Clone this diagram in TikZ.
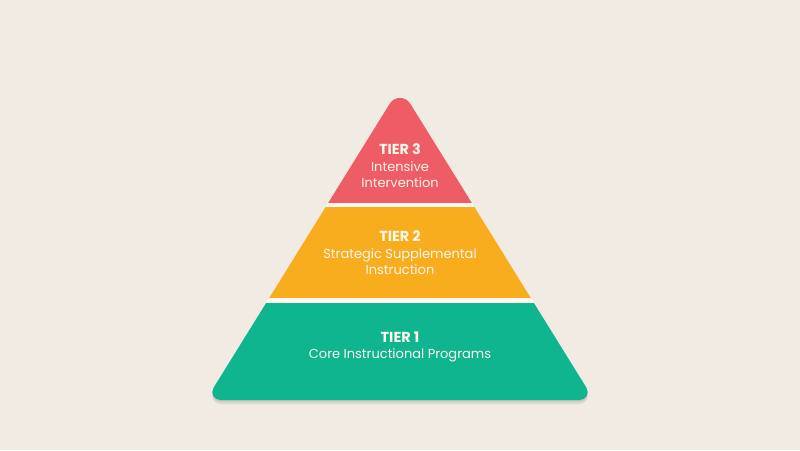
\documentclass[tikz,border=0pt]{standalone}
\usepackage{fontspec}
\setmainfont{Poppins}
\definecolor{bg}{HTML}{F1EBE4}
\definecolor{tred}{HTML}{EE5C66}
\definecolor{torange}{HTML}{F8AD1F}
\definecolor{tgreen}{HTML}{0EB58F}
\definecolor{gapc}{HTML}{FFF9F2}
\definecolor{txt}{HTML}{FFF6EC}
\newcommand{\tiername}[1]{{\fontsize{14.5}{16}\selectfont\bfseries #1}}
\begin{document}
\begin{tikzpicture}[x=1pt,y=-1pt,
  tierlabel/.style={text=txt, align=center, font=\fontsize{13}{16.5}\selectfont, inner sep=0pt},
  softshadow/.style={fill=black, fill opacity=0.035}]
\fill[bg] (0,0) rectangle (800,450);
\useasboundingbox (0,0) rectangle (800,450);
\def\pyr{(220.3,400) .. controls (214,400) and (210.2,393.1) .. (213.5,387.8) -- (389.8,103.6) .. controls (394.5,96) and (405.5,96) .. (410.2,103.6) -- (586.5,387.8) .. controls (589.8,393.1) and (586,400) .. (579.7,400) -- cycle}
\foreach \s in {1,2,3,4,5} {
  \fill[softshadow, shift={(0,\s*0.9)}] \pyr;
}
\begin{scope}
  \clip \pyr;
  \fill[tred] (150,50) rectangle (650,203);
  \fill[gapc] (150,203) rectangle (650,207);
  \fill[torange] (150,207) rectangle (650,297.5);
  \fill[gapc] (150,297.5) rectangle (650,302.5);
  \fill[tgreen] (150,302.5) rectangle (650,410);
\end{scope}
\node[tierlabel] (t3) at (400,166) {\tiername{TIER 3}\\Intensive\\Intervention};
\node[tierlabel] (t2) at (400,253) {\tiername{TIER 2}\\Strategic Supplemental\\Instruction};
\node[tierlabel] (t1) at (400,347) {\tiername{TIER 1}\\Core Instructional Programs};
\end{tikzpicture}
\end{document}
